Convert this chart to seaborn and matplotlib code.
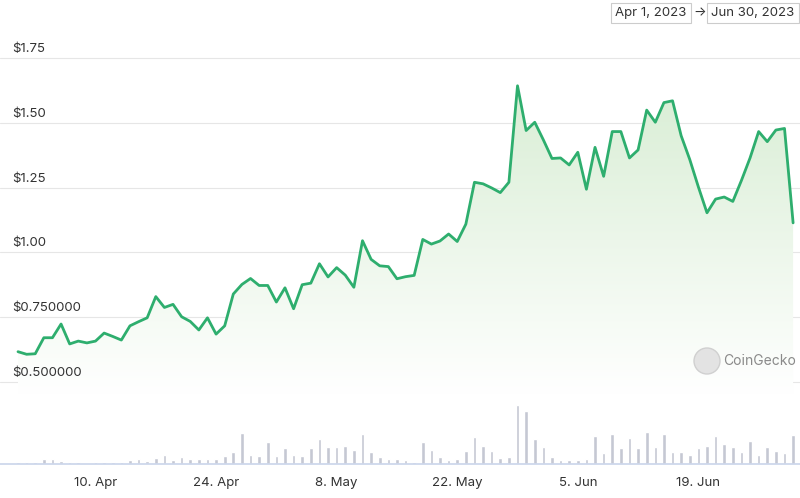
import numpy as np
import pandas as pd
import matplotlib
matplotlib.use("Agg")
import matplotlib.pyplot as plt
import seaborn as sns
from matplotlib.patches import Polygon, Ellipse

dates = pd.date_range("2023-04-01", "2023-06-30", freq="D")
price = [0.616,0.606,0.608,0.670,0.670,0.723,0.646,0.657,0.650,0.657,
         0.688,0.675,0.661,0.716,0.732,0.747,0.829,0.787,0.799,0.751,
         0.733,0.700,0.747,0.684,0.716,0.839,0.876,0.899,0.872,0.872,
         0.808,0.863,0.782,0.875,0.881,0.956,0.905,0.941,0.912,0.865,
         1.045,0.973,0.948,0.945,0.898,0.906,0.911,
         1.050,1.032,1.044,1.071,1.042,1.109,1.271,1.265,1.249,1.231,1.271,
         1.644,1.471,1.503,1.435,1.363,1.365,1.338,1.387,1.244,1.406,
         1.294,1.467,1.467,1.365,1.396,1.550,1.503,1.579,1.586,1.451,
         1.359,1.253,1.153,1.206,1.214,1.197,1.278,1.365,1.467,1.428,
         1.473,1.479,1.114]
volume = [1.6,1.6,1.6,5.3,4.7,3,1.6,1.6,1.2,1.6,1.6,1.6,2.3,4,5.3,3,5.7,8.7,4,7,
          5.3,5.3,4.7,4.7,7.7,11.7,31.3,9.3,7.7,22.3,7.7,15.7,8.7,7.7,15.7,25.3,17.3,17.3,18.3,13.7,
          30,11.7,6.7,4.7,5.3,4,2.3,
          21.7,14,6.7,4,5,12.7,26.7,18.3,12.7,6,6.7,59,53.3,24.7,17.3,6.7,4.3,4.3,4.3,5,28.3,10.7,
          30,16,25.7,16,31.7,16.7,30,11.7,11.7,9.3,16,17.7,28.3,20,16.7,11.7,23.3,9.3,16.7,12.7,10.7,29.3]
tick_labels = ["10. Apr", "24. Apr", "8. May", "22. May", "5. Jun", "19. Jun"]
tick_dates = pd.to_datetime(["2023-04-10", "2023-04-24", "2023-05-08", "2023-05-22", "2023-06-05", "2023-06-19"])
ylevels = [0.5, 0.75, 1.0, 1.25, 1.5, 1.75]
ylabels = ["$0.500000", "$0.750000", "$1.00", "$1.25", "$1.50", "$1.75"]

df = pd.DataFrame({"day": np.arange(len(dates)), "price": price, "volume": volume})
tick_idx = [(d - dates[0]).days for d in tick_dates]

sns.set_theme(style="white")
plt.rcParams['font.family'] = ['Inter', 'DejaVu Sans']
W, H = 800, 498
fig = plt.figure(figsize=(8, 4.98), dpi=100)
xlim = (-2.09, 90.8)
green = "#2eae6e"

ax = fig.add_axes([0, 1 - 395 / H, 1, (395 - 40) / H])
ax.set_xlim(*xlim)
ax.set_ylim(0.4486, 1.821)
for lv, lb in zip(ylevels, ylabels):
    ax.axhline(lv, color="#e6e6e6", lw=0.8, zorder=0)
    ax.text(12 / W, lv + 0.012, lb, transform=ax.get_yaxis_transform(), fontsize=9.5,
            color="#333333", va="bottom", ha="left")
grad = np.linspace(0, 1, 256).reshape(-1, 1)
cmap = matplotlib.colors.LinearSegmentedColormap.from_list("g", ["#ffffff", "#d9eed5"])
im = ax.imshow(grad, extent=[0, 90, 0.4486, max(price)], origin="lower", aspect="auto",
               cmap=cmap, zorder=1)
poly = Polygon(list(zip(df.day, df.price)) + [(90, 0.4486), (0, 0.4486)], closed=True,
               transform=ax.transData, facecolor="none", edgecolor="none")
ax.add_patch(poly)
im.set_clip_path(poly)
sns.lineplot(data=df, x="day", y="price", ax=ax, color=green, lw=2, zorder=3)
ax.set_axis_off()

# watermark (figure-level, circular)
fig.patches.append(Ellipse((707 / W, 1 - 361 / H), 26 / W, 26 / H, transform=fig.transFigure,
                           facecolor="#e3e3e3", edgecolor="#d0d0d0", lw=1, zorder=5))
fig.text(723 / W, 1 - 361 / H, "CoinGecko", fontsize=10, color="#8a8a8a",
         va="center", ha="left", zorder=5)

axv = fig.add_axes([0, 1 - 464 / H, 1, (464 - 400) / H])
axv.set_xlim(*xlim)
axv.set_ylim(0, 64)
axv.bar(df.day, df.volume, width=0.42, color="#c5c8d3")
for s in ["top", "right", "left"]:
    axv.spines[s].set_visible(False)
axv.spines["bottom"].set_color("#ccd6eb")
axv.set_yticks([])
axv.set_xticks(tick_idx)
axv.set_xticklabels(tick_labels, fontsize=9.5, color="#333333")
axv.tick_params(axis="x", length=6, color="#ccd6eb", pad=3)
axv.set_xlabel(""); axv.set_ylabel("")

box = dict(boxstyle="square,pad=0.3", facecolor="white", edgecolor="#cccccc", lw=0.8)
fig.text(651 / W, 1 - 13 / H, "Apr 1, 2023", fontsize=9.5, color="#333333", ha="center", va="center", bbox=box)
fig.text(700 / W, 1 - 13 / H, "→", fontsize=9.5, color="#333333", ha="center", va="center")
fig.text(753 / W, 1 - 13 / H, "Jun 30, 2023", fontsize=9.5, color="#333333", ha="center", va="center", bbox=box)

fig.savefig("out.png", dpi=100)
